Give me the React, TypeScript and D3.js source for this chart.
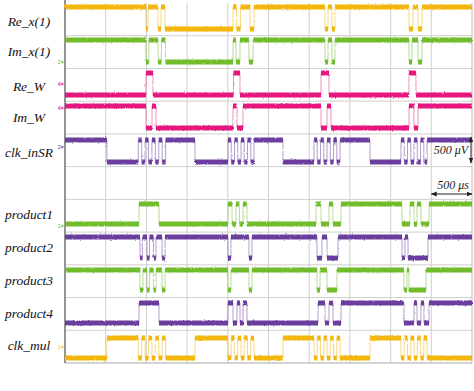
import React from 'react';
import * as d3 from 'd3';

type Edge = [number, number];

// time in µs (500 µs / div, 10 div), level 1 = high, 0 = low
const reX1: Edge[] = [[0, 1], [995, 0], [1020, 1], [1143, 0], [1179, 1], [1229, 0], [2064, 1], [2107, 0], [2156, 1], [2273, 0], [2322, 1], [3194, 0], [3231, 1], [3280, 0], [3317, 1], [4226, 0], [4275, 1], [4337, 0], [4386, 1]];
const imX1: Edge[] = [[0, 1], [995, 0], [1030, 1], [1143, 0], [1184, 1], [1235, 0], [2064, 1], [2101, 0], [2150, 1], [2260, 0], [2310, 1], [3194, 0], [3231, 1], [3280, 0], [3317, 1], [4226, 0], [4263, 1], [4337, 0], [4386, 1]];
const reW: Edge[] = [[0, 0], [995, 1], [1081, 0], [2070, 1], [2150, 0], [3145, 1], [3243, 0], [4226, 1], [4312, 0]];
const imW: Edge[] = [[0, 1], [995, 0], [1069, 1], [1118, 0], [2064, 1], [2113, 0], [2187, 1], [3145, 0], [3219, 1], [3268, 0], [4226, 1], [4287, 0], [4337, 1]];
const clkInSR: Edge[] = [[0, 1], [515, 0],
  [900, 1], [942, 0], [984, 1], [1026, 0], [1068, 1], [1110, 0], [1152, 1], [1194, 0], [1236, 1], [1597, 0],
  [2002, 1], [2042, 0], [2082, 1], [2122, 0], [2162, 1], [2202, 0], [2242, 1], [2282, 0], [2322, 1], [2678, 0],
  [3059, 1], [3099, 0], [3139, 1], [3179, 0], [3219, 1], [3259, 0], [3299, 1], [3339, 0], [3379, 1], [3747, 0],
  [4128, 1], [4168, 0], [4208, 1], [4248, 0], [4288, 1], [4328, 0], [4368, 1], [4408, 0], [4448, 1]];
const product1: Edge[] = [[0, 0], [909, 1], [1155, 0], [2002, 1], [2052, 0], [2101, 1], [2144, 0], [2187, 1], [2236, 0], [3084, 1], [3145, 0], [3243, 1], [3292, 0], [3391, 1], [4140, 0], [4238, 1], [4287, 0], [4324, 1], [4373, 0], [4472, 1]];
const product2: Edge[] = [[0, 1], [921, 0], [952, 1], [1007, 0], [1038, 1], [1087, 0], [1118, 1], [1192, 0], [1229, 1], [2002, 0], [2039, 1], [2260, 0], [2297, 1], [3096, 0], [3157, 1], [3219, 0], [3354, 1], [4140, 0], [4177, 1], [4214, 0], [4459, 1]];
const product3: Edge[] = [[0, 1], [921, 0], [958, 1], [1007, 0], [1038, 1], [1087, 0], [1118, 1], [1192, 0], [1229, 1], [2002, 0], [2039, 1], [2260, 0], [2297, 1], [3096, 0], [3133, 1], [3219, 0], [3342, 1], [4164, 0], [4201, 1], [4226, 0], [4435, 1]];
const product4: Edge[] = [[0, 0], [909, 1], [1155, 0], [2002, 1], [2064, 0], [2113, 1], [2150, 0], [2187, 1], [2236, 0], [3108, 1], [3194, 0], [3243, 1], [3292, 0], [3391, 1], [4164, 0], [4287, 1], [4324, 0], [4373, 1], [4410, 0], [4472, 1]];
const clkMul: Edge[] = [[0, 0], [515, 1],
  [900, 0], [942, 1], [984, 0], [1026, 1], [1068, 0], [1110, 1], [1152, 0], [1194, 1], [1236, 0], [1597, 1],
  [2002, 0], [2042, 1], [2082, 0], [2122, 1], [2162, 0], [2202, 1], [2242, 0], [2282, 1], [2322, 0], [2678, 1],
  [3059, 0], [3099, 1], [3139, 0], [3179, 1], [3219, 0], [3259, 1], [3299, 0], [3339, 1], [3379, 0], [3747, 1],
  [4128, 0], [4168, 1], [4208, 0], [4248, 1], [4288, 0], [4328, 1], [4368, 0], [4408, 1], [4448, 0]];

const channelLabels = ['Re_x(1)', 'Im_x(1)', 'Re_W', 'Im_W', 'clk_inSR', 'product1', 'product2', 'product3', 'product4', 'clk_mul'];
const channelMarkers = ['', '2', '4', '4', '2', '2', '', '', '', '1'];
const voltScaleLabel = '500 μV';
const timeScaleLabel = '500 μs';

const W = 474, H = 391;
const left = 65, right = 472, top = 3, bottom = 363;

const ORANGE = '#f3b60c', GREEN = '#6fbc2b', PINK = '#e5197d', PURPLE = '#6a3d9e';

// layout: [highY, lowY, labelY]
const layout: [number, number, number][] = [
  [7, 29, 22], [40, 62, 52], [73, 95, 87], [106, 128, 118], [140, 162, 153],
  [204, 224, 215], [237, 258, 248], [270, 290, 281], [303, 323, 314], [338, 358, 346],
];
const markerY = [0, 62, 84, 108, 147, 226, 0, 0, 0, 347];
const colors = [ORANGE, GREEN, PINK, PINK, PURPLE, GREEN, PURPLE, GREEN, PURPLE, ORANGE];
const series = [reX1, imX1, reW, imW, clkInSR, product1, product2, product3, product4, clkMul];

const x = d3.scaleLinear().domain([0, 5000]).range([left, right]);
const yDiv = d3.scaleLinear().domain([0, 11]).range([bottom, top]);

function Trace({ edges, color, hi, lo }: { edges: Edge[]; color: string; hi: number; lo: number }) {
  const end = x.domain()[1];
  const lvl = (v: number) => (v ? hi : lo);
  return (
    <g>
      {edges.slice(1).map((e, i) => (
        <line key={'v' + i} x1={x(e[0])} x2={x(e[0])} y1={hi} y2={lo} stroke={color} strokeWidth={1} strokeOpacity={0.5} />
      ))}
      {edges.map((e, i) => {
        const t1 = i + 1 < edges.length ? edges[i + 1][0] : end;
        return (
          <line key={'h' + i} x1={x(e[0])} x2={x(t1)} y1={lvl(e[1])} y2={lvl(e[1])} stroke={color} strokeWidth={5} />
        );
      })}
    </g>
  );
}

export default function App() {
  const vTicks = d3.range(1, 10).map(d => d * 500);
  const hTicks = d3.range(1, 11);
  return (
    <svg width={W} height={H} style={{ position: 'absolute', left: 0, top: 0, background: '#fff' }}>
      <defs>
        <filter id="noise" x="-2%" y="-20%" width="104%" height="140%">
          <feTurbulence type="fractalNoise" baseFrequency="0.9 0.4" numOctaves={1} seed={3} result="n" />
          <feDisplacementMap in="SourceGraphic" in2="n" scale={2.4} xChannelSelector="R" yChannelSelector="G" />
        </filter>
        <marker id="ah" viewBox="0 0 10 10" refX={9} refY={5} markerWidth={6} markerHeight={6} orient="auto-start-reverse">
          <path d="M0,1 L10,5 L0,9 z" fill="#222" />
        </marker>
      </defs>
      <g stroke="#cfcfcf" strokeWidth={1}>
        {vTicks.map(t => <line key={t} x1={x(t)} x2={x(t)} y1={top} y2={bottom} />)}
        {hTicks.map(k => <line key={k} x1={left} x2={right} y1={yDiv(k)} y2={yDiv(k)} />)}
      </g>
      <line x1={left} x2={right} y1={bottom} y2={bottom} stroke="#a8a8a8" strokeWidth={1.2} />
      <line x1={right} x2={right} y1={top} y2={bottom} stroke="#bdbdbd" strokeWidth={1} />
      <line x1={left} x2={left} y1={0} y2={bottom} stroke="#7a7a7a" strokeWidth={1.6} />
      <g filter="url(#noise)">
        {series.map((s, i) => (
          <Trace key={i} edges={s} color={colors[i]} hi={layout[i][0]} lo={layout[i][1]} />
        ))}
      </g>
      <g fontFamily="'Liberation Serif', serif" fontStyle="italic" fontSize={13.5} fill="#111" textAnchor="middle">
        {channelLabels.map((l, i) => (
          <text key={l} x={29} y={layout[i][2] + 4}>{l}</text>
        ))}
      </g>
      <g fontFamily="'DejaVu Sans', sans-serif" fontSize={5.5} textAnchor="end">
        {channelMarkers.map((m, i) => m ? (
          <g key={i}>
            <text x={61} y={markerY[i] + 2} fill={colors[i]}>{m}</text>
            <path d={`M61.5,${markerY[i] - 1.5} l2.5,1.5 l-2.5,1.5 z`} fill={colors[i]} />
          </g>
        ) : null)}
      </g>
      <rect x={433} y={143} width={36} height={13} fill="#fff" fillOpacity={0.8} />
      <text x={451} y={154} fontFamily="'Liberation Serif', serif" fontStyle="italic" fontSize={12} textAnchor="middle" fill="#1e1e1e">{voltScaleLabel}</text>
      <line x1={471} x2={471} y1={137} y2={163} stroke="#222" strokeWidth={1} markerEnd="url(#ah)" markerStart="url(#ah)" />
      <text x={453} y={189} fontFamily="'Liberation Serif', serif" fontStyle="italic" fontSize={12} textAnchor="middle" fill="#1e1e1e">{timeScaleLabel}</text>
      <line x1={x(4500)} x2={x(5000)} y1={194} y2={194} stroke="#222" strokeWidth={1} markerEnd="url(#ah)" markerStart="url(#ah)" />
    </svg>
  );
}
